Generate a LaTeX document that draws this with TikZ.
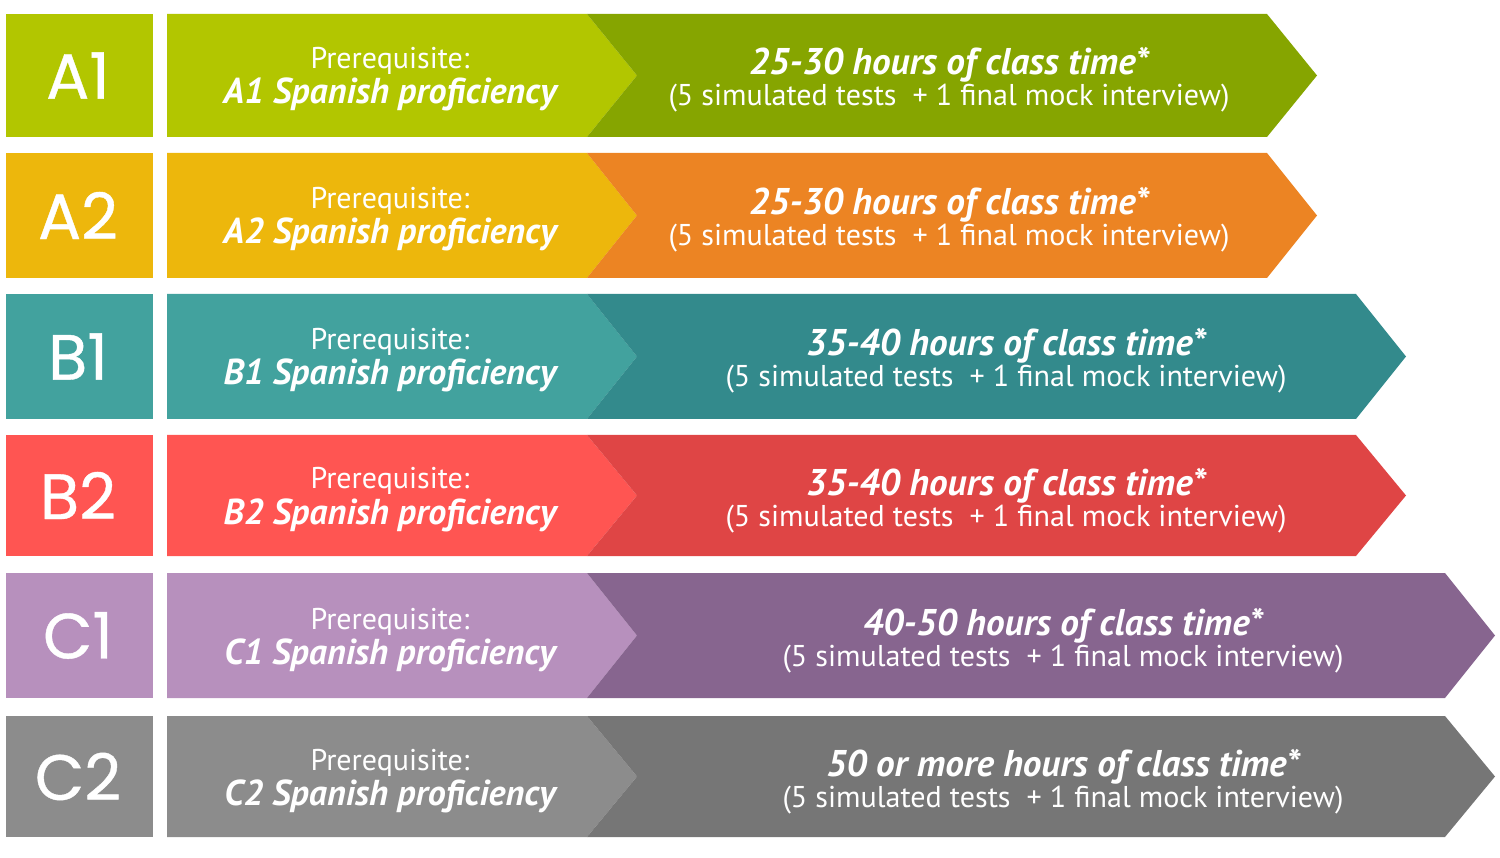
\documentclass[tikz,border=0pt]{standalone}
\usepackage{fontspec}
\setmainfont{PT Sans}
\newfontfamily\condfont{PT Sans}
\newfontfamily\lvlfont[FakeBold=0.6]{Poppins}
\definecolor{aL}{HTML}{B2C600}\definecolor{aD}{HTML}{86A500}
\definecolor{bL}{HTML}{EDB70C}\definecolor{bD}{HTML}{EC8423}
\definecolor{cL}{HTML}{42A29E}\definecolor{cD}{HTML}{338A8C}
\definecolor{dL}{HTML}{FF5552}\definecolor{dD}{HTML}{DF4545}
\definecolor{eL}{HTML}{B790BD}\definecolor{eD}{HTML}{87658F}
\definecolor{fL}{HTML}{8C8C8C}\definecolor{fD}{HTML}{767676}
\tikzset{
  lvl/.style={text=white,font=\lvlfont\fontsize{64}{64}\selectfont,inner sep=0pt},
  prereq/.style={text=white,anchor=base,inner sep=0pt,font=\condfont\fontsize{30}{30}\selectfont},
  prof/.style={text=white,anchor=base,inner sep=0pt,font=\condfont\bfseries\itshape\fontsize{36}{36}\selectfont},
  hours/.style={text=white,anchor=base,inner sep=0pt,font=\condfont\bfseries\itshape\fontsize{37.2}{37.2}\selectfont},
  tests/.style={text=white,anchor=base,inner sep=0pt,font=\condfont\fontsize{30.1}{30.1}\selectfont},
}
\begin{document}
\begin{tikzpicture}[x=1pt,y=-1pt]
\useasboundingbox (0,0) rectangle (1500,858);
\foreach \i/\t/\b/\lc/\dc/\lv/\e/\c/\h in {
  1/14/137/aL/aD/A1/1267/949/25-30 hours of class time*,
  2/153/278/bL/bD/A2/1267/949/25-30 hours of class time*,
  3/294/419/cL/cD/B1/1356/1006/35-40 hours of class time*,
  4/435/556/dL/dD/B2/1356/1006/35-40 hours of class time*,
  5/573/698/eL/eD/C1/1445/1063/40-50 hours of class time*,
  6/716/837/fL/fD/C2/1445/1063/50 or more hours of class time*}{
  \pgfmathsetmacro\m{(\t+\b)/2}
  \fill[\lc] (6,\t) rectangle (153,\b);
  \fill[\lc] (167,\t) -- (587,\t) -- (637,\m) -- (587,\b) -- (167,\b) -- cycle;
  \fill[\dc] (587,\t) -- (\e,\t) -- (\e+50,\m) -- (\e,\b) -- (587,\b) -- (637,\m) -- cycle;
  \node[lvl] (lv\i) at (78,\m) {\lv};
  \node[prereq] (pre\i) at (390,\m-6.5) {Prerequisite:};
  \node[prof] (prof\i) at (390,\m+28.5) {\lv\ Spanish proficiency};
  \node[hours] (hrs\i) at (\c,\m-0.5) {\h};
  \node[tests] (tst\i) at (\c,\m+30.5) {(5 simulated tests\ \ + 1 final mock interview)};
}
\end{tikzpicture}
\end{document}
